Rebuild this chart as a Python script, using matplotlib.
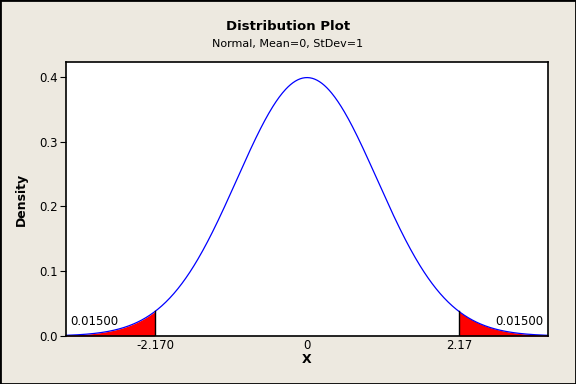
import numpy as np
import matplotlib
matplotlib.use("Agg")
import matplotlib.pyplot as plt

mean = 0
sd = 1
cutoff_left = -2.170
cutoff_right = 2.17
tail_area = "0.01500"
xtick_vals = [-2.170, 0, 2.17]
xtick_labels = ["-2.170", "0", "2.17"]
ytick_vals = [0.0, 0.1, 0.2, 0.3, 0.4]

bg = "#EDE9E0"
plt.rcParams["font.family"] = ["DejaVu Sans"]

x = np.linspace(-3.44, 3.44, 600)
y = np.exp(-0.5 * ((x - mean) / sd) ** 2) / (sd * np.sqrt(2 * np.pi))

fig = plt.figure(figsize=(5.76, 3.84), dpi=100, facecolor=bg)
ax = fig.add_axes([66 / 576, 1 - 336 / 384, (548 - 66) / 576, (336 - 62) / 384])
ax.set_facecolor("white")

ax.plot(x, y, color="blue", lw=0.9)
lmask = x <= cutoff_left
rmask = x >= cutoff_right
ax.fill_between(x[lmask], 0, y[lmask], color="red", lw=0)
ax.fill_between(x[rmask], 0, y[rmask], color="red", lw=0)
for c in [cutoff_left, cutoff_right]:
    yc = np.exp(-0.5 * ((c - mean) / sd) ** 2) / (sd * np.sqrt(2 * np.pi))
    ax.plot([c, c], [0, yc], color="black", lw=1)

ax.set_xlim(-3.44, 3.44)
ax.set_ylim(0, 0.423)
ax.set_xticks(xtick_vals)
ax.set_xticklabels(xtick_labels)
ax.set_yticks(ytick_vals)
ax.set_yticklabels([f"{v:.1f}" for v in ytick_vals])
ax.tick_params(axis="x", length=0, labelsize=8.5, pad=2)
ax.tick_params(axis="y", length=4, labelsize=8.5, pad=2)
for s in ax.spines.values():
    s.set_linewidth(1.2)

ax.text(-3.38, 0.012, tail_area, fontsize=8.5, ha="left", va="bottom")
ax.text(3.38, 0.012, tail_area, fontsize=8.5, ha="right", va="bottom")

ax.set_xlabel("X", fontsize=9, fontweight="bold", labelpad=1)
ax.set_ylabel("Density", fontsize=9, fontweight="bold", labelpad=8)

fig.text(0.5, 1 - 27 / 384, "Distribution Plot", fontsize=9.5, fontweight="bold",
         ha="center", va="center")
fig.text(0.5, 1 - 44 / 384, "Normal, Mean=0, StDev=1", fontsize=8,
         ha="center", va="center")

fig.patches.append(plt.Rectangle((0, 0), 1, 1, transform=fig.transFigure,
                                 fill=False, edgecolor="black", lw=2))

fig.savefig("out.png", dpi=100, facecolor=bg)
